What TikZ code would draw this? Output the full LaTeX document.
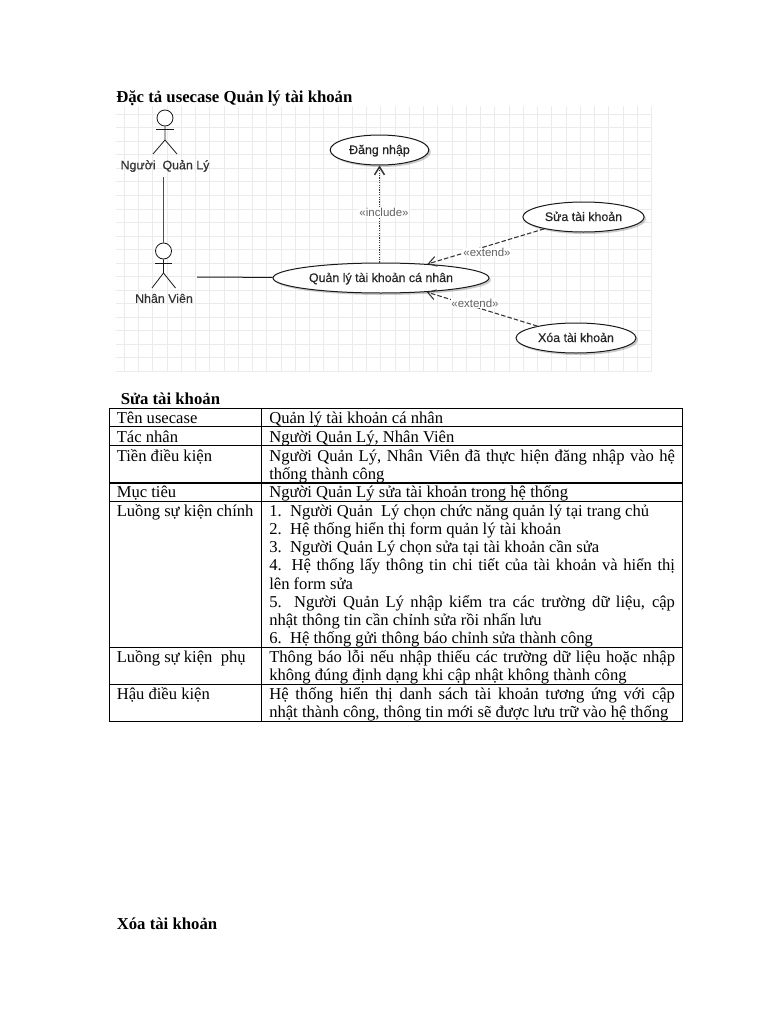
\documentclass[tikz,border=0pt]{standalone}
\usepackage{fontspec}
\setmainfont{Liberation Serif}
\newfontfamily\umlfont[FakeBold=0.3]{Liberation Sans}
\newfontfamily\stereofont{Liberation Sans}
\usetikzlibrary{shapes.geometric,arrows.meta,shadows}
\tikzset{
  heading/.style={anchor=base west,inner sep=0pt,font=\fontsize{12.55}{13.7}\selectfont\bfseries},
  cell/.style={anchor=base west,inner sep=0pt,font=\fontsize{12.45}{13.7}\selectfont},
  longcell/.style={cell,text width=304.3pt,align=justify},
  usecase/.style={ellipse,draw=black!90,fill=white,line width=0.75pt,inner sep=0pt,
    minimum height=22.5pt,text height=8pt,text depth=2pt,font=\umlfont\fontsize{9.3}{11}\selectfont,text=black!85,
    drop shadow={shadow xshift=1.5pt,shadow yshift=-1.5pt,opacity=0.2,fill=black}},
  actorlabel/.style={inner sep=0pt,text height=7pt,text depth=2pt,font=\umlfont\fontsize{9.3}{11}\selectfont,text=black!80},
  stereo/.style={inner sep=0.5pt,font=\stereofont\fontsize{8.6}{10}\selectfont,text=black!62},
  head/.style={circle,draw=black!90,line width=0.6pt,fill=white,inner sep=0pt,minimum size=12pt},
  limb/.style={black!90,line width=0.6pt},
  depend/.style={-{Straight Barb[length=6pt,width=7.5pt]},black!80,line width=0.8pt},
  extendline/.style={depend,dash pattern=on 3.4pt off 1.6pt}
}
\begin{document}
\begin{tikzpicture}[x=0.75pt,y=-0.75pt]
  \useasboundingbox[fill=white] (0,0) rectangle (768,1024);

  % ===== tieu de =====
  \node[heading] (tieude) at (116,102.5) {Đặc tả usecase Quản lý tài khoản};
  \node[heading] (tieudesua) at (120.5,404) {Sửa tài khoản};
  \node[heading] (tieudexoa) at (116.5,929) {Xóa tài khoản};

  % ===== luoi nen =====
  \foreach \i in {0,...,37}
    \draw[black!8,line width=0.7pt] ({124.4+14.25*\i},106) -- ({124.4+14.25*\i},372);
  \foreach \i in {0,...,19}
    \draw[black!8,line width=0.7pt] (116,{114.3+13.53*\i}) -- (652,{114.3+13.53*\i});

  % ===== tac nhan =====
  \node[head] (headql) at (165,118) {};
  \draw[limb] (headql.south) -- (165,140) -- (153,154);
  \draw[limb] (165,140) -- (177,154);
  \draw[limb] (156,129) -- (174,129);
  \node[actorlabel] (nguoiql) at (165,166) {Người\ \ Quản Lý};

  \node[head] (headnv) at (163.5,251) {};
  \draw[limb] (headnv.south) -- (163.5,273) -- (152,288);
  \draw[limb] (163.5,273) -- (175.5,288);
  \draw[limb] (155,263) -- (172,263);
  \node[actorlabel] (nhanvien) at (164,299.5) {Nhân Viên};

  % ===== use case =====
  \node[usecase,minimum width=74pt] (dangnhap) at (379.5,150) {Đăng nhập};
  \node[usecase,minimum width=162pt] (quanly) at (381,278) {Quản lý tài khoản cá nhân};
  \node[usecase,minimum width=91pt] (suatk) at (583.5,217) {Sửa tài khoản};
  \node[usecase,minimum width=90pt] (xoatk) at (576,338) {Xóa tài khoản};

  % ===== duong noi =====
  \coordinate (duoiql) at (163.5,177);
  \coordinate (canhnv) at (197,277);
  \draw[black!70,line width=0.9pt] (duoiql) -- (headnv);
  \draw[black!90,line width=0.75pt] (canhnv) -- (quanly);
  \draw[depend,densely dotted,line width=1.1pt] (quanly.north -| dangnhap) -- (dangnhap);
  \draw[extendline] (suatk) -- (quanly);
  \draw[extendline] (xoatk) -- (quanly);

  \node[stereo,fill=white] (nhaninclude) at (384,212) {«include»};
  \node[stereo,fill=white] (nhansua) at (487,252.5) {«extend»};
  \node[stereo,fill=white] (nhanxoa) at (475,303) {«extend»};

  % ===== bang =====
  \draw[line width=0.8pt] (109.5,408.5) rectangle (682.5,721.5);
  \draw[line width=0.8pt] (261.5,408.5) -- (261.5,721.5);
  \foreach \y in {426.5,445.5,483,501.5,647.5,684.5}
    \draw[line width=0.8pt] (109.5,\y) -- (682.5,\y);

  \node[cell] (ten) at (116.5,423) {Tên usecase};
  \node[cell] (tacnhan) at (116.5,442) {Tác nhân};
  \node[cell] (tiendk) at (116.5,461) {Tiền điều kiện};
  \node[cell] (muctieu) at (116.5,497.5) {Mục tiêu};
  \node[cell] (luongchinh) at (116.5,516) {Luồng sự kiện chính};
  \node[cell] (luongphu) at (116.5,662.5) {Luồng sự kiện\ \ phụ};
  \node[cell] (haudk) at (116.5,699.5) {Hậu điều kiện};

  \node[longcell] (tenct) at (269,423) {Quản lý tài khoản cá nhân};
  \node[longcell] (tacnhanct) at (269,442) {Người Quản Lý, Nhân Viên};
  \node[longcell] (tiendkct) at (269,461) {Người Quản Lý, Nhân Viên đã thực hiện đăng nhập vào hệ\linebreak thống thành công};
  \node[longcell] (muctieuct) at (269,497.5) {Người Quản Lý sửa tài khoản trong hệ thống};
  \node[longcell] (luongct) at (269,516) {1.\ \ Người Quản\ \ Lý chọn chức năng quản lý tại trang chủ\\
    2.\ \ Hệ thống hiển thị form quản lý tài khoản\\
    3.\ \ Người Quản Lý chọn sửa tại tài khoản cần sửa\\
    4. Hệ thống lấy thông tin chi tiết của tài khoản và hiển thị\linebreak lên form sửa\\
    5. Người Quản Lý nhập kiểm tra các trường dữ liệu, cập\linebreak nhật thông tin cần chỉnh sửa rồi nhấn lưu\\
    6.\ \ Hệ thống gửi thông báo chỉnh sửa thành công};
  \node[longcell] (luongphuct) at (269,662.5) {Thông báo lỗi nếu nhập thiếu các trường dữ liệu hoặc nhập\linebreak không đúng định dạng khi cập nhật không thành công};
  \node[longcell] (haudkct) at (269,699.5) {Hệ thống hiển thị danh sách tài khoản tương ứng với cập\linebreak nhật thành công, thông tin mới sẽ được lưu trữ vào hệ thống};
\end{tikzpicture}
\end{document}
